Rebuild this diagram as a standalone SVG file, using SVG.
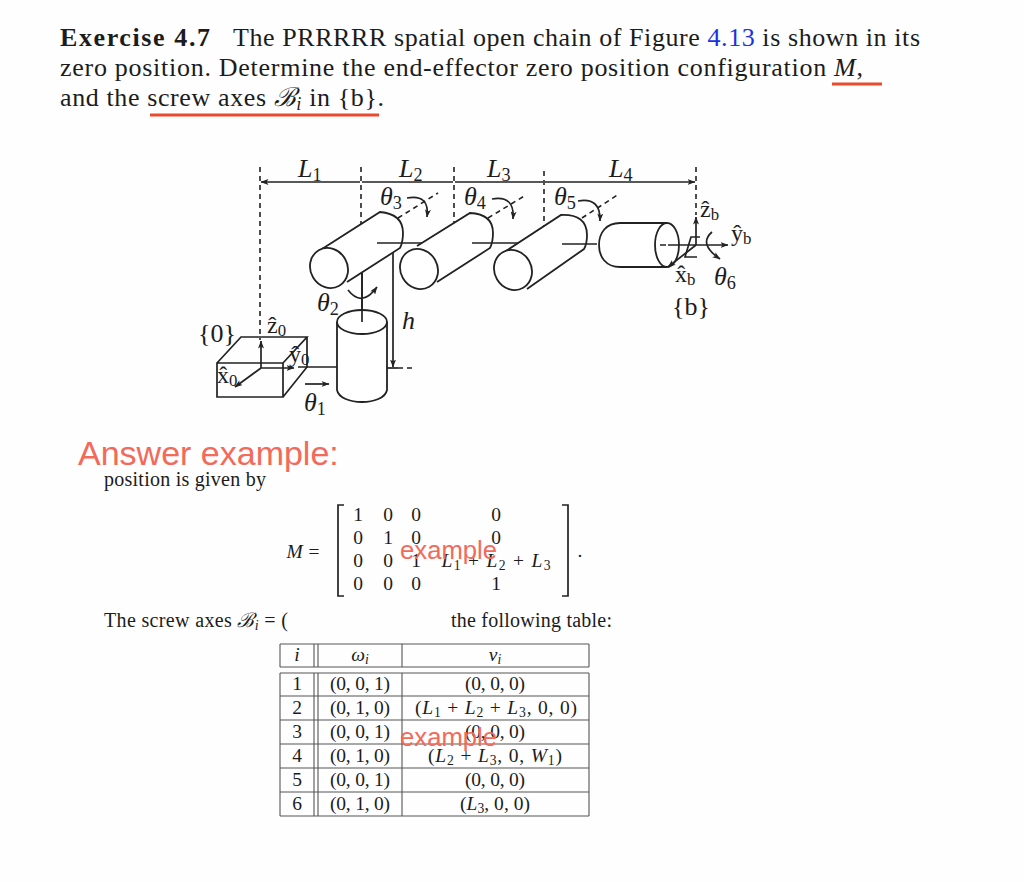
<svg xmlns="http://www.w3.org/2000/svg" width="1024" height="882" viewBox="0 0 1024 882">
<defs>
<marker id="arr" viewBox="0 0 8 6" refX="7.5" refY="3" markerWidth="8" markerHeight="6" markerUnits="userSpaceOnUse" orient="auto-start-reverse"><path d="M0 0L8 3L0 6L2 3Z" fill="#222"/></marker>
</defs>
<style>
text{font-family:"Liberation Serif",serif;fill:#1c1c1c}
.h{font-size:26px}
.t{font-size:20px}
.m{font-size:19.5px;text-anchor:middle}
.l{font-size:26px}
.x{font-size:24px}
.i{font-style:italic}
.n{font-style:normal}
.s{font-size:70%;baseline-shift:-20%}
.red{font-family:"Liberation Sans",sans-serif;fill:#f4695a}
.wm{font-size:25.7px}
.st{fill:none;stroke:#222;stroke-width:1.7}
.cyl{fill:#fff;stroke:#222;stroke-width:1.8}
.d{fill:none;stroke:#222;stroke-width:1.6;stroke-dasharray:5 4}
.a{marker-end:url(#arr)}
.ab{marker-start:url(#arr);marker-end:url(#arr)}
.g{fill:none;stroke:#555;stroke-width:1.1}
.u{stroke:#ea4a2e;stroke-width:3.2}
</style>
<rect width="1024" height="882" fill="#fefefe"/>
<g id="heading">
<text class="h" x="60" y="46" font-weight="bold" textLength="150">Exercise 4.7</text>
<text class="h" x="233" y="46" textLength="687">The PRRRRR spatial open chain of Figure <tspan fill="#1a33e0">4.13</tspan> is shown in its</text>
<text class="h" x="60" y="76" textLength="803">zero position.  Determine the end-effector zero position configuration <tspan class="i">M</tspan>,</text>
<text class="h" x="60" y="106" textLength="324">and the screw axes <tspan class="i">ℬ</tspan><tspan class="i s">i</tspan> in {b}.</text>
<line class="u" x1="832" y1="84" x2="882" y2="84"/>
<line class="u" x1="150" y1="115" x2="379" y2="115"/>
</g>
<g id="connectors">
<path class="d" d="M260 167V340M361 167V243M454 167V243M544 171V245M696 167V215"/>
<path class="st ab" d="M261 182H360M362 182H453M455 182H543M545 182H695"/>
<path class="st" d="M362 273V323"/>
<path class="st a" d="M348 290Q362 308 377 287"/>
<path class="st ab" d="M393 244V367"/>
<path class="st" d="M387 368H398"/>
<path class="d" d="M398 368H414"/>
<path class="st" d="M298 367H337"/>
<path class="st a" d="M305 384H329"/>
</g>
<g id="cylinder-1">
<path class="cyl" d="M322 249L380 212Q403 214 403 233Q403 242 400 248L347 282"/>
<ellipse class="cyl" cx="329" cy="268" rx="18.5" ry="20.5" transform="rotate(-30 329 268)"/>
<path class="st" d="M377 243H422"/>
<path class="d" d="M398 218L438 193"/>
<path class="st a" d="M407 198Q430 194 427 217"/>
</g>
<g id="cylinder-2">
<path class="cyl" d="M417 246L470 213Q493 214 493 233Q493 242 490 248L437 282"/>
<ellipse class="cyl" cx="419" cy="269" rx="18.5" ry="20.5" transform="rotate(-30 419 269)"/>
<path class="st" d="M472 243H518"/>
<path class="d" d="M488 218L526 195"/>
<path class="st a" d="M492 199Q515 195 513 219"/>
</g>
<g id="cylinder-3">
<path class="cyl" d="M506 251L561 215Q587 214 587 235Q587 244 584 249L527 289"/>
<ellipse class="cyl" cx="513" cy="270" rx="18.5" ry="20.5" transform="rotate(-30 513 270)"/>
<path class="st" d="M562 244H597"/>
<path class="d" d="M582 218L619 194"/>
<path class="st a" d="M578 201Q601 197 600 221"/>
</g>
<g id="cylinder-4">
<path class="cyl" d="M667 223H620C606 223 599 233 599 245C599 257 606 267 620 267H667"/>
<ellipse class="cyl" cx="667" cy="245" rx="12" ry="22"/>
</g>
<g id="frame-b">
<path class="st a" d="M696 245V217"/>
<path class="st" d="M660 245H672" stroke-dasharray="6 2"/>
<path class="st a" d="M672 245H728"/>
<path class="st a" d="M696 245L668 267"/>
<path class="st" d="M700 237H691L685 257H697"/>
<path class="st a" d="M712 232Q698 244 720 259"/>
<text class="x" x="700" y="217">ẑ<tspan class="s">b</tspan></text>
<text class="x" x="731" y="241">ŷ<tspan class="s">b</tspan></text>
<text class="x" x="675" y="282">x̂<tspan class="s">b</tspan></text>
<text class="l i" x="714" y="285">θ<tspan class="s n">6</tspan></text>
<text class="l" x="672" y="315">{b}</text>
</g>
<g id="base-cylinder">
<path class="cyl" d="M337 322V390C340 406 384 406 387 390V322"/>
<ellipse class="cyl" cx="362" cy="322" rx="25" ry="12"/>
<path class="st" d="M362 322V273"/>
</g>
<g id="frame-0">
<path class="st" d="M217 363L241 337H307L283 363H217V397H283V363M283 397L307 367V337"/>
<path class="st a" d="M261 368V341"/>
<path class="st a" d="M261 368H294"/>
<path class="st a" d="M261 368L235 387"/>
<text class="l" x="198" y="342">{0}</text>
<text class="x" x="267" y="333">ẑ<tspan class="s">0</tspan></text>
<text class="x" x="289" y="362">ŷ<tspan class="s">0</tspan></text>
<text class="x" x="217" y="383">x̂<tspan class="s">0</tspan></text>
</g>
<g id="labels">
<text class="l i" x="298" y="177">L<tspan class="s n">1</tspan></text>
<text class="l i" x="399" y="177">L<tspan class="s n">2</tspan></text>
<text class="l i" x="487" y="177">L<tspan class="s n">3</tspan></text>
<text class="l i" x="609" y="177">L<tspan class="s n">4</tspan></text>
<text class="l i" x="380" y="205">θ<tspan class="s n">3</tspan></text>
<text class="l i" x="464" y="205">θ<tspan class="s n">4</tspan></text>
<text class="l i" x="554" y="205">θ<tspan class="s n">5</tspan></text>
<text class="l i" x="317" y="311">θ<tspan class="s n">2</tspan></text>
<text class="l i" x="402" y="329">h</text>
<text class="l i" x="304" y="411">θ<tspan class="s n">1</tspan></text>
</g>
<g id="answer">
<text class="red" x="78" y="465" font-size="34">Answer example:</text>
<text class="t" x="104" y="486" textLength="162">position is given by</text>
<text class="t" x="104" y="627" textLength="184">The screw axes <tspan class="i">ℬ</tspan><tspan class="i s">i</tspan> = (</text>
<text class="t" x="451" y="627" textLength="161">the following table:</text>
</g>
<g id="matrix">
<text class="m" x="303" y="558" textLength="33"><tspan class="i">M</tspan> =</text>
<path class="st" d="M344 505H338V596H344M562 505H568V596H562"/>
<text class="m" x="358" y="521">1</text><text class="m" x="388" y="521">0</text><text class="m" x="416" y="521">0</text><text class="m" x="496" y="521">0</text>
<text class="m" x="358" y="544">0</text><text class="m" x="388" y="544">1</text><text class="m" x="416" y="544">0</text><text class="m" x="496" y="544">0</text>
<text class="m" x="358" y="567">0</text><text class="m" x="388" y="567">0</text><text class="m" x="416" y="567">1</text><text class="m i" x="496" y="567" textLength="109">L<tspan class="s n">1</tspan><tspan class="n"> + </tspan>L<tspan class="s n">2</tspan><tspan class="n"> + </tspan>L<tspan class="s n">3</tspan></text>
<text class="m" x="358" y="590">0</text><text class="m" x="388" y="590">0</text><text class="m" x="416" y="590">0</text><text class="m" x="496" y="590">1</text>
<text class="m" x="580" y="557">.</text>
<text class="red wm" x="400" y="559">example</text>
</g>
<g id="table">
<path class="g" d="M280 644H589M280 667H589M280 673H589M280 696H589M280 720H589M280 744H589M280 768H589M280 792H589M280 816H589M280 644V667M280 673V816M314 644V667M318 644V667M314 673V816M318 673V816M402 644V667M402 673V816M589 644V667M589 673V816"/>
<text class="m i" x="297" y="661">i</text><text class="m i" x="360" y="661">ω<tspan class="s">i</tspan></text><text class="m i" x="495" y="661">v<tspan class="s">i</tspan></text>
<text class="m" x="297" y="690">1</text><text class="m" x="360" y="690" textLength="60">(0, 0, 1)</text><text class="m" x="495" y="690" textLength="60">(0, 0, 0)</text>
<text class="m" x="297" y="714">2</text><text class="m" x="360" y="714" textLength="60">(0, 1, 0)</text><text class="m" x="496" y="714" textLength="162">(<tspan class="i">L</tspan><tspan class="s">1</tspan> + <tspan class="i">L</tspan><tspan class="s">2</tspan> + <tspan class="i">L</tspan><tspan class="s">3</tspan>, 0, 0)</text>
<text class="m" x="297" y="738">3</text><text class="m" x="360" y="738" textLength="60">(0, 0, 1)</text><text class="m" x="495" y="738" textLength="60">(0, 0, 0)</text>
<text class="m" x="297" y="762">4</text><text class="m" x="360" y="762" textLength="60">(0, 1, 0)</text><text class="m" x="495" y="762" textLength="134">(<tspan class="i">L</tspan><tspan class="s">2</tspan> + <tspan class="i">L</tspan><tspan class="s">3</tspan>, 0, <tspan class="i">W</tspan><tspan class="s">1</tspan>)</text>
<text class="m" x="297" y="786">5</text><text class="m" x="360" y="786" textLength="60">(0, 0, 1)</text><text class="m" x="495" y="786" textLength="60">(0, 0, 0)</text>
<text class="m" x="297" y="810">6</text><text class="m" x="360" y="810" textLength="60">(0, 1, 0)</text><text class="m" x="495" y="810" textLength="70">(<tspan class="i">L</tspan><tspan class="s">3</tspan>, 0, 0)</text>
<text class="red wm" x="400" y="746">example</text>
</g>
</svg>
